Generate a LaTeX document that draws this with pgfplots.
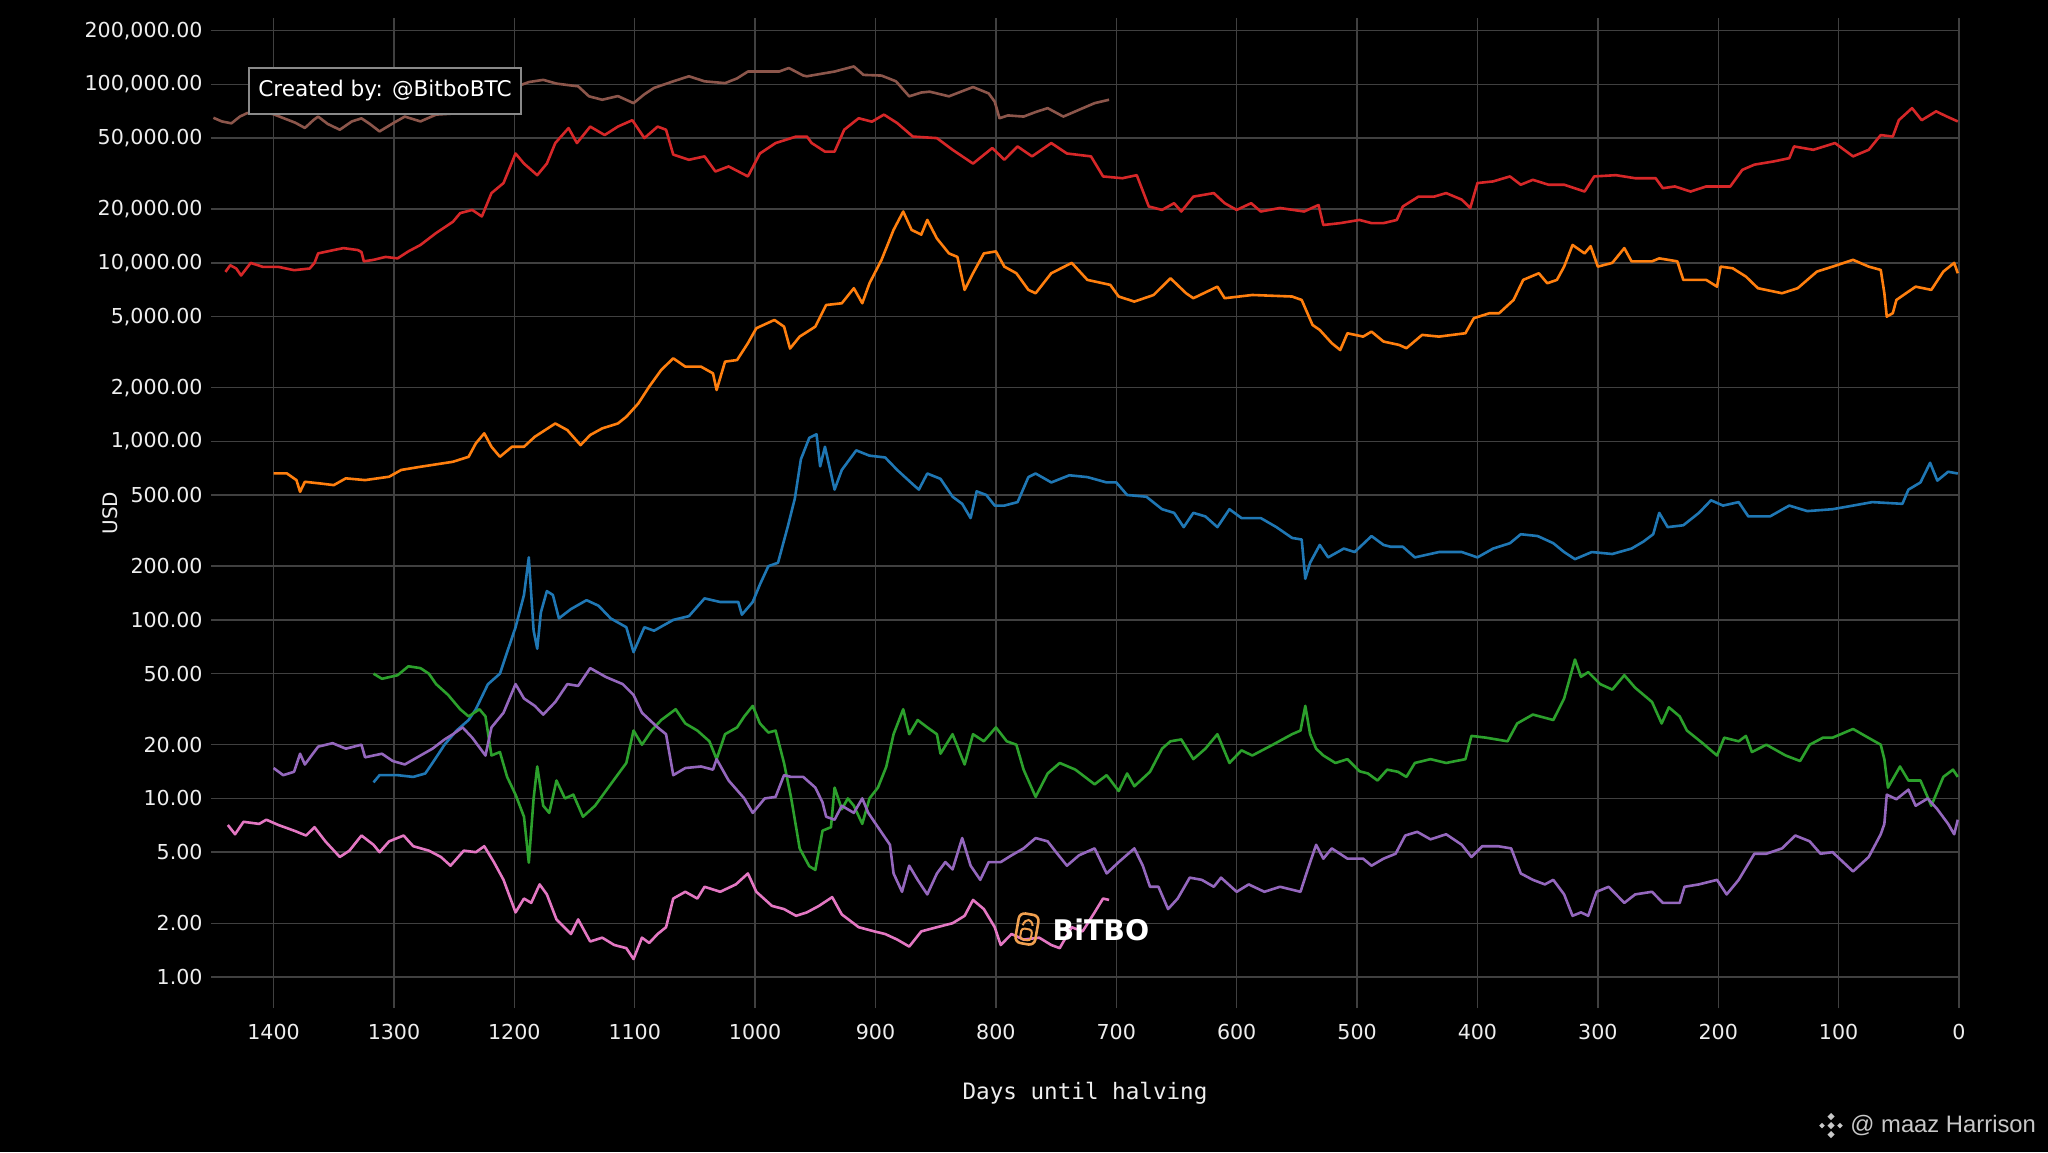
\documentclass[border=0pt]{standalone}
\usepackage{pgfplots}
\pgfplotsset{compat=1.18}
\usepackage{fontspec}
\setmainfont{DejaVu Sans}
\newfontfamily\monofont{DejaVu Sans Mono}
\newfontfamily\libsans{Liberation Sans}
\definecolor{cbrown}{HTML}{8C564B}
\definecolor{cred}{HTML}{D62728}
\definecolor{corange}{HTML}{FF7F0E}
\definecolor{cblue}{HTML}{1F77B4}
\definecolor{cgreen}{HTML}{2CA02C}
\definecolor{cpurple}{HTML}{9467BD}
\definecolor{cpink}{HTML}{E377C2}
\definecolor{gridgray}{HTML}{404040}
\definecolor{ticktext}{HTML}{EEEEEE}
\definecolor{boxgray}{HTML}{8A8A8A}
\definecolor{wmgray}{HTML}{C8C8C8}
\definecolor{logoorange}{HTML}{F0A050}
\begin{document}
\begin{tikzpicture}
\useasboundingbox (0,0) rectangle (1024pt,576pt);
\fill[black] (0,0) rectangle (1024pt,576pt);
\begin{axis}[
  at={(105.5pt,72pt)}, anchor=south west,
  scale only axis, width=874pt, height=494.85pt,
  xmin=0, xmax=1452, x dir=reverse,
  ymode=log, ymin=0.67, ymax=234500,
  xtick={0,100,200,300,400,500,600,700,800,900,1000,1100,1200,1300,1400},
  xticklabels={0,100,200,300,400,500,600,700,800,900,1000,1100,1200,1300,1400},
  ytick={1,2,5,10,20,50,100,200,500,1000,2000,5000,10000,20000,50000,100000,200000},
  yticklabels={{1.00},{2.00},{5.00},{10.00},{20.00},{50.00},{100.00},{200.00},{500.00},{1,000.00},{2,000.00},{5,000.00},{10,000.00},{20,000.00},{50,000.00},{100,000.00},{200,000.00}},
  log basis y=10,
  grid=major, major grid style={draw=gridgray, line width=0.7pt},
  axis line style={draw=none}, major tick length=0pt,
  tick label style={text=ticktext, font=\fontsize{10.3}{12}\selectfont},
  xticklabel style={anchor=north, inner sep=0pt, yshift=-8pt},
  yticklabel style={anchor=east, inner sep=0pt, xshift=-4pt},
  every axis plot/.append style={line width=1.3pt, line join=round, no markers},
]
% brown
\addplot[cbrown] coordinates {
(1450,65000) (1443,62000) (1435,60500) (1428,66000) (1422,69000) (1412,70500) (1400,68000) (1390,64000) (1382,61000) (1374,57000) (1367,63000) (1363,66000) (1355,60000) (1345,55700) (1335,62000) (1327,64500) (1320,60000) (1312,54500) (1300,61000) (1291,66000) (1278,62000) (1265,67700) (1253,68500) (1240,72000) (1220,80000) (1205,90000) (1194,99500) (1188,103000) (1176,106000) (1165,101000) (1155,99000) (1147,97500) (1138,85700) (1127,82000) (1114,86000) (1101,78500) (1092,88000) (1084,95500) (1068,104000) (1055,111000) (1042,104000) (1025,101600) (1015,108000) (1006,118000) (989,118000) (980,118000) (972,123500) (960,112000) (957,111000) (947,114000) (934,118000) (918,126000) (910,113000) (895,112000) (883,104000) (872,85700) (862,90000) (855,91000) (839,85700) (819,96600) (806,89000) (801,80000) (797,64600) (790,67000) (777,66000) (767,70000) (757,73600) (744,66000) (731,72000) (718,78500) (706,82000)
};
% red
\addplot[cred] coordinates {
(1440,8900) (1436,9700) (1431,9300) (1427,8500) (1419,10000) (1409,9500) (1396,9500) (1383,9100) (1370,9300) (1366,10000) (1363,11300) (1350,11800) (1342,12100) (1330,11800) (1327,11500) (1325,10200) (1317,10400) (1307,10800) (1297,10600) (1288,11600) (1278,12600) (1265,14700) (1251,17000) (1245,19000) (1235,19800) (1227,18200) (1219,24600) (1209,28000) (1199,41000) (1192,36000) (1181,31000) (1173,36000) (1166,46900) (1155,56900) (1148,46900) (1137,58000) (1125,52000) (1114,58000) (1102,63000) (1092,50000) (1081,58000) (1074,55700) (1068,40400) (1055,37800) (1042,39500) (1033,32500) (1022,34700) (1006,30500) (996,41000) (983,46900) (966,51000) (957,51000) (953,46900) (942,42000) (934,42000) (926,55700) (914,64600) (903,61800) (893,67700) (882,60700) (869,51000) (849,50000) (836,43000) (819,36000) (803,44000) (793,37800) (782,44900) (770,39500) (754,46900) (741,41000) (721,39500) (711,30500) (695,29800) (683,31000) (673,20700) (662,19800) (652,21600) (646,19400) (636,23500) (619,24600) (610,21600) (600,19800) (588,21600) (580,19400) (564,20300) (544,19400) (532,21100) (528,16300) (514,16700) (498,17400) (488,16700) (478,16700) (467,17400) (462,20700) (449,23500) (436,23500) (426,24600) (413,22600) (406,20300) (400,28000) (387,28600) (373,30500) (364,27400) (354,29200) (341,27400) (328,27400) (311,25100) (303,30500) (285,31000) (269,29800) (252,29800) (246,26200) (236,26800) (223,25100) (210,26800) (190,26800) (180,33200) (170,35500) (154,37000) (141,38600) (137,44900) (121,43000) (103,46900) (88,39500) (75,43000) (65,52000) (55,51000) (50,63000) (39,73600) (31,63000) (19,70600) (10,66000) (1,62000)
};
% orange
\addplot[corange] coordinates {
(1400,662) (1389,662) (1381,607) (1378,522) (1374,594) (1360,580) (1350,569) (1340,621) (1324,607) (1304,634) (1294,692) (1278,721) (1251,769) (1238,820) (1232,975) (1225,1110) (1219,933) (1212,820) (1202,933) (1192,933) (1183,1062) (1166,1260) (1156,1157) (1145,953) (1137,1086) (1127,1183) (1114,1260) (1107,1374) (1097,1633) (1088,2026) (1078,2513) (1068,2920) (1058,2623) (1045,2623) (1035,2405) (1032,1941) (1025,2797) (1015,2857) (1006,3549) (999,4305) (984,4790) (976,4395) (971,3314) (963,3864) (950,4395) (941,5808) (928,5940) (918,7211) (911,5940) (905,7690) (895,10400) (885,15300) (877,19400) (870,15300) (862,14400) (857,17400) (849,13700) (839,11300) (832,10800) (826,7060) (819,8750) (810,11300) (800,11600) (793,9530) (783,8750) (773,7060) (767,6760) (754,8750) (737,10000) (724,8030) (705,7530) (698,6480) (685,6070) (669,6610) (655,8200) (642,6760) (636,6340) (616,7360) (610,6340) (587,6610) (554,6480) (546,6200) (537,4490) (531,4210) (521,3549) (514,3250) (508,4035) (495,3864) (488,4120) (478,3625) (465,3470) (459,3327) (446,3950) (432,3864) (410,4035) (403,4900) (390,5224) (382,5224) (370,6200) (362,8030) (349,8750) (342,7690) (334,8030) (328,9530) (321,12600) (311,11300) (306,12400) (300,9530) (288,10000) (278,12100) (272,10200) (255,10200) (249,10600) (234,10200) (229,8030) (210,8030) (201,7360) (198,9530) (188,9330) (177,8380) (167,7211) (147,6760) (134,7211) (118,8940) (105,9530) (88,10400) (75,9530) (65,9130) (62,6760) (60,5000) (55,5224) (52,6200) (44,6760) (36,7360) (23,7060) (13,8940) (4,10000) (1,8750)
};
% blue
\addplot[cblue] coordinates {
(1317,12.3) (1312,13.5) (1297,13.5) (1284,13.2) (1274,13.8) (1268,15.8) (1258,20) (1248,24) (1238,27.5) (1232,31.6) (1222,43.6) (1212,50) (1206,66) (1199,91) (1192,138) (1188,224) (1184,87) (1181,69) (1178,110) (1173,145) (1168,138) (1163,102) (1153,115) (1140,129) (1130,120) (1120,102) (1107,91) (1101,66) (1092,91) (1084,87) (1068,100) (1055,105) (1042,132) (1029,126) (1014,126) (1011,107) (1002,126) (996,158) (989,200) (981,209) (973,331) (967,479) (962,794) (955,1047) (949,1096) (946,724) (942,933) (934,537) (928,692) (916,891) (905,832) (892,813) (882,692) (869,575) (864,537) (857,661) (846,617) (836,490) (828,447) (821,372) (816,525) (808,501) (801,437) (793,437) (782,457) (773,631) (767,661) (754,589) (739,646) (724,631) (708,589) (700,589) (691,501) (675,490) (662,417) (652,398) (644,331) (636,398) (626,380) (616,331) (606,417) (596,372) (580,372) (567,331) (554,288) (546,282) (543,170) (539,209) (531,263) (524,224) (511,251) (502,240) (488,295) (478,263) (472,257) (462,257) (452,224) (432,240) (413,240) (400,224) (387,251) (373,269) (364,302) (350,295) (337,269) (328,240) (319,219) (305,240) (288,234) (272,251) (262,275) (254,302) (249,398) (242,331) (229,339) (216,398) (206,468) (196,437) (183,457) (175,380) (157,380) (141,437) (126,407) (105,417) (88,437) (72,457) (47,447) (42,537) (32,589) (24,759) (18,603) (9,676) (1,661)
};
% green
\addplot[cgreen] coordinates {
(1317,50) (1310,46.8) (1297,49) (1288,55) (1278,53.7) (1271,50) (1265,43.7) (1255,38) (1245,31.6) (1238,28.8) (1229,31.6) (1224,28.8) (1219,17.4) (1212,18.2) (1206,13.2) (1199,10.5) (1192,7.9) (1188,4.37) (1184,10) (1181,15.1) (1176,9.1) (1171,8.3) (1165,12.6) (1158,10) (1151,10.5) (1143,7.9) (1133,9.1) (1120,12) (1107,15.8) (1101,24) (1094,20) (1086,24) (1078,27.5) (1066,31.6) (1058,26.3) (1048,24) (1038,20.9) (1032,16.6) (1025,22.9) (1015,25) (1009,28.8) (1002,33) (996,26.3) (989,23.4) (983,24) (976,15.8) (970,10) (963,5.25) (955,4.17) (950,3.98) (944,6.6) (937,6.9) (934,11.5) (928,8.7) (923,10) (918,9.1) (911,7.2) (905,10) (898,11.5) (891,15.1) (885,22.9) (877,31.6) (872,22.9) (865,27.5) (857,25) (849,22.9) (846,17.8) (836,22.9) (826,15.5) (819,22.9) (810,20.9) (800,25) (791,20.9) (783,20) (777,14.5) (767,10.2) (757,13.8) (747,15.8) (734,14.5) (718,12) (708,13.5) (698,11) (691,13.8) (685,11.7) (672,14.1) (662,19) (655,20.9) (646,21.4) (636,16.6) (626,19) (616,22.9) (606,15.8) (596,18.6) (587,17.4) (570,20) (554,22.9) (547,24) (543,33) (539,22.9) (534,19) (528,17.4) (518,15.8) (508,16.6) (498,14.2) (491,13.8) (483,12.6) (475,14.5) (466,14.1) (459,13.2) (452,15.8) (439,16.6) (426,15.8) (410,16.6) (405,22.4) (393,21.9) (375,20.9) (367,26.3) (354,29.5) (337,27.5) (328,36.3) (319,60) (314,48) (308,51) (298,43.7) (288,40.7) (278,49) (269,41.7) (255,34.7) (247,26.3) (241,32.4) (232,28.8) (226,24) (213,20.4) (201,17.4) (195,21.9) (183,20.9) (177,22.4) (172,18.2) (160,20) (144,17.4) (132,16.2) (124,20) (113,21.9) (105,21.9) (88,24.5) (78,22.4) (65,20) (62,16.6) (59,11.5) (49,15.1) (42,12.6) (32,12.6) (23,9.1) (13,13.2) (5,14.5) (1,13.2)
};
% purple
\addplot[cpurple] coordinates {
(1400,14.8) (1392,13.5) (1383,14.1) (1378,17.8) (1374,15.5) (1363,19.5) (1351,20.4) (1340,19) (1327,20) (1324,17) (1310,17.8) (1301,16.2) (1291,15.5) (1278,17.4) (1268,19) (1258,21.4) (1251,22.9) (1243,25) (1235,21.9) (1224,17.4) (1219,25) (1209,30.2) (1199,43.7) (1192,36.3) (1183,33) (1176,29.5) (1166,34.7) (1156,43.7) (1147,42.7) (1137,53.7) (1124,47.9) (1110,43.7) (1101,38) (1094,30.2) (1081,25) (1074,22.9) (1068,13.5) (1058,14.8) (1045,15.1) (1035,14.5) (1032,16.6) (1022,12.6) (1009,10) (1002,8.3) (992,10) (983,10.2) (976,13.5) (970,13.2) (960,13.2) (950,11.5) (944,9.5) (941,7.9) (934,7.6) (928,9.1) (918,8.3) (911,10) (906,8.3) (896,6.6) (888,5.5) (885,3.8) (878,3.0) (872,4.2) (865,3.5) (857,2.9) (849,3.8) (842,4.4) (836,4.0) (828,6.0) (821,4.2) (813,3.5) (806,4.4) (796,4.4) (787,4.8) (777,5.25) (767,6.0) (757,5.75) (750,5.0) (741,4.2) (731,4.8) (718,5.25) (708,3.8) (698,4.4) (685,5.25) (678,4.2) (672,3.2) (665,3.2) (657,2.4) (649,2.75) (639,3.6) (629,3.5) (619,3.2) (613,3.6) (600,3.0) (590,3.3) (577,3.0) (564,3.2) (547,3.0) (541,4.0) (534,5.5) (528,4.6) (521,5.25) (508,4.6) (495,4.6) (488,4.2) (478,4.6) (468,4.9) (460,6.2) (450,6.5) (439,5.9) (426,6.3) (413,5.5) (405,4.7) (396,5.4) (383,5.4) (372,5.25) (364,3.8) (354,3.5) (344,3.3) (337,3.5) (328,2.9) (321,2.2) (314,2.3) (308,2.2) (301,3.0) (291,3.2) (278,2.6) (269,2.9) (255,3.0) (246,2.6) (232,2.6) (228,3.2) (216,3.3) (201,3.5) (193,2.9) (183,3.5) (170,4.9) (160,4.9) (147,5.25) (136,6.2) (124,5.75) (115,4.9) (105,5.0) (88,3.9) (75,4.7) (65,6.3) (62,7.2) (60,10.5) (52,9.9) (42,11.2) (36,9.1) (26,10) (18,8.7) (9,7.2) (4,6.3) (1,7.6)
};
% pink
\addplot[cpink] coordinates {
(1438,7.1) (1432,6.3) (1425,7.4) (1412,7.2) (1406,7.6) (1396,7.1) (1383,6.6) (1373,6.2) (1366,6.9) (1357,5.75) (1345,4.7) (1337,5.1) (1327,6.2) (1317,5.5) (1312,5.0) (1304,5.75) (1292,6.2) (1284,5.4) (1271,5.1) (1261,4.7) (1253,4.2) (1242,5.1) (1232,5.0) (1225,5.4) (1217,4.4) (1209,3.5) (1199,2.3) (1192,2.75) (1186,2.6) (1179,3.3) (1173,2.9) (1165,2.1) (1153,1.74) (1147,2.1) (1137,1.58) (1127,1.66) (1117,1.51) (1107,1.45) (1101,1.26) (1094,1.66) (1088,1.55) (1081,1.74) (1074,1.9) (1068,2.75) (1058,3.0) (1048,2.75) (1042,3.2) (1029,3.0) (1016,3.3) (1006,3.8) (999,3.0) (986,2.5) (976,2.4) (966,2.2) (957,2.3) (947,2.5) (936,2.8) (928,2.24) (914,1.9) (901,1.8) (892,1.74) (882,1.62) (872,1.48) (862,1.8) (849,1.9) (836,2.0) (826,2.2) (819,2.7) (810,2.4) (801,1.9) (796,1.51) (787,1.74) (777,1.62) (764,1.66) (754,1.51) (747,1.45) (737,1.9) (728,1.8) (718,2.3) (711,2.75) (706,2.7)
};
\end{axis}
% axis titles
\node[text=ticktext, font=\monofont\fontsize{11.3}{13}\selectfont] at (542.5pt,29.5pt) {Days until halving};
\node[text=ticktext, rotate=90, font=\fontsize{10}{12}\selectfont] at (55pt,319.5pt) {USD};
% annotation box
\node[draw=boxgray, fill=black, line width=0.8pt, minimum width=136pt, minimum height=23pt, inner sep=0pt, text=white, font=\fontsize{10.8}{12}\selectfont] at (192.5pt,530.5pt) {Created by: @BitboBTC};
% BITBO watermark
\begin{scope}[rotate around={-10:(513.5pt,111.5pt)}]
\draw[logoorange, line width=1.3pt, rounded corners=3pt] (508.5pt,104pt) rectangle (518.5pt,119pt);
\draw[logoorange, line width=1.0pt, rounded corners=1.5pt] (510.8pt,106pt) rectangle (516.2pt,111.5pt);
\draw[logoorange, line width=1.0pt] (511pt,113pt) .. controls (512pt,117pt) and (515pt,117pt) .. (516pt,113.5pt);
\end{scope}
\node[text=white, font=\bfseries\fontsize{14.2}{16}\selectfont] at (550.5pt,111pt) {BiTBO};
% bottom-right watermark
\foreach \dx/\dy/\s in {0/0/1.8,0/4.5/1.8,4.5/0/1.4,0/-4.5/1.8,-4.5/0/1.4}{
  \fill[wmgray] (915.5pt+\dx pt,13.2pt+\dy pt+\s pt) -- ++(\s pt,-\s pt) -- ++(-\s pt,-\s pt) -- ++(-\s pt,\s pt) -- cycle;
}
\node[anchor=west, inner sep=0pt, text=wmgray, font=\libsans\fontsize{11.9}{13}\selectfont] at (925pt,13pt) {@ maaz Harrison};
\end{tikzpicture}
\end{document}
